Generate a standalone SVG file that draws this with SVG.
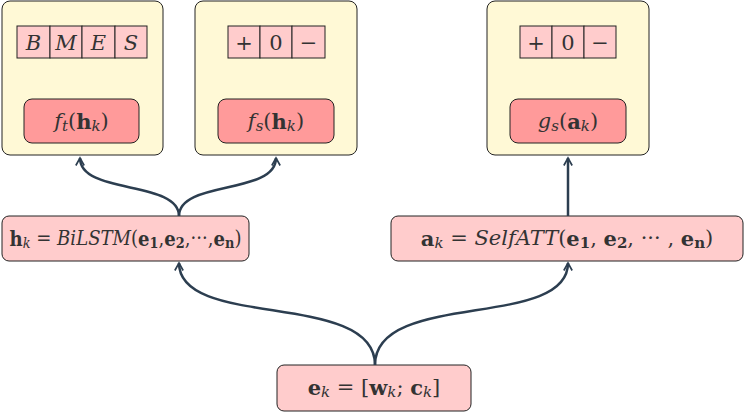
<svg xmlns="http://www.w3.org/2000/svg" width="749" height="415" viewBox="0 0 749 415">
<style>
.outer{fill:#fff9d6;stroke:#222;stroke-width:1}
.cell{fill:#ffcccc;stroke:#222;stroke-width:1}
.inner{fill:#ff9a9a;stroke:#222;stroke-width:1}
.node{fill:#ffcccc;stroke:#222;stroke-width:1}
.t{font-family:"DejaVu Serif",serif;font-size:21px;fill:#333;text-anchor:middle;dominant-baseline:central}
.i{font-style:italic}
.b{font-weight:bold;font-style:normal}
.c{fill:none;stroke:#2c3e50;stroke-width:2.5}
</style>
<defs>
<marker id="ah" viewBox="0 0 12 12" refX="10" refY="6" markerWidth="10" markerHeight="10" markerUnits="userSpaceOnUse" orient="auto">
<path d="M1,1 L10,6 L1,11" fill="none" stroke="#2c3e50" stroke-width="2"/>
</marker>
</defs>
<g id="box-ft">
<rect class="outer" x="2" y="1" width="161" height="154" rx="8"/>
<rect class="cell" x="17" y="26" width="33" height="32"/><rect class="cell" x="50" y="26" width="32" height="32"/><rect class="cell" x="82" y="26" width="33" height="32"/><rect class="cell" x="115" y="26" width="32" height="32"/>
<text class="t i" x="33.5" y="43">B</text><text class="t i" x="66" y="43">M</text><text class="t i" x="98.5" y="43">E</text><text class="t i" x="131" y="43">S</text>
<rect class="inner" x="24" y="99" width="115" height="44" rx="8"/>
<text class="t" x="81.5" y="121"><tspan class="i">f</tspan><tspan class="i" font-size="15" dy="5">t</tspan><tspan dy="-5">(</tspan><tspan class="b">h</tspan><tspan class="i" font-size="15" dy="5">k</tspan><tspan dy="-5">)</tspan></text>
</g>
<g id="box-fs">
<rect class="outer" x="195" y="1" width="162" height="154" rx="8"/>
<rect class="cell" x="228" y="26" width="32" height="32"/><rect class="cell" x="260" y="26" width="32" height="32"/><rect class="cell" x="292" y="26" width="33" height="32"/>
<text class="t" x="244" y="43">+</text><text class="t" x="276" y="43">0</text><text class="t" x="308.5" y="43">−</text>
<rect class="inner" x="218" y="99" width="116" height="44" rx="8"/>
<text class="t" x="276" y="121"><tspan class="i">f</tspan><tspan class="i" font-size="15" dy="5">s</tspan><tspan dy="-5">(</tspan><tspan class="b">h</tspan><tspan class="i" font-size="15" dy="5">k</tspan><tspan dy="-5">)</tspan></text>
</g>
<g id="box-gs">
<rect class="outer" x="487" y="1" width="162" height="154" rx="8"/>
<rect class="cell" x="520" y="26" width="32" height="32"/><rect class="cell" x="552" y="26" width="32" height="32"/><rect class="cell" x="584" y="26" width="32" height="32"/>
<text class="t" x="536" y="43">+</text><text class="t" x="568" y="43">0</text><text class="t" x="600" y="43">−</text>
<rect class="inner" x="510" y="99" width="116" height="44" rx="8"/>
<text class="t" x="568" y="121"><tspan class="i">g</tspan><tspan class="i" font-size="15" dy="5">s</tspan><tspan dy="-5">(</tspan><tspan class="b">a</tspan><tspan class="i" font-size="15" dy="5">k</tspan><tspan dy="-5">)</tspan></text>
</g>
<g id="node-h">
<rect class="node" x="2" y="216" width="247" height="45" rx="7"/>
<text class="t" x="125.5" y="238" textLength="232" lengthAdjust="spacingAndGlyphs"><tspan class="b">h</tspan><tspan class="i" font-size="15" dy="5">k</tspan><tspan dy="-5"> = </tspan><tspan class="i">BiLSTM</tspan>(<tspan class="b">e</tspan><tspan class="b" font-size="15" dy="5">1</tspan><tspan dy="-5">,</tspan><tspan class="b">e</tspan><tspan class="b" font-size="15" dy="5">2</tspan><tspan dy="-5">,···,</tspan><tspan class="b">e</tspan><tspan class="b" font-size="15" dy="5">n</tspan><tspan dy="-5">)</tspan></text>
</g>
<g id="node-a">
<rect class="node" x="391" y="216" width="352" height="45" rx="7"/>
<text class="t" x="567" y="238"><tspan class="b">a</tspan><tspan class="i" font-size="15" dy="5">k</tspan><tspan dy="-5"> = </tspan><tspan class="i">SelfATT</tspan>(<tspan class="b">e</tspan><tspan class="b" font-size="15" dy="5">1</tspan><tspan dy="-5">, </tspan><tspan class="b">e</tspan><tspan class="b" font-size="15" dy="5">2</tspan><tspan dy="-5">, ··· , </tspan><tspan class="b">e</tspan><tspan class="b" font-size="15" dy="5">n</tspan><tspan dy="-5">)</tspan></text>
</g>
<g id="node-e">
<rect class="node" x="277" y="365" width="194" height="46" rx="7"/>
<text class="t" x="374" y="387"><tspan class="b">e</tspan><tspan class="i" font-size="15" dy="5">k</tspan><tspan dy="-5"> = [</tspan><tspan class="b">w</tspan><tspan class="i" font-size="15" dy="5">k</tspan><tspan dy="-5">; </tspan><tspan class="b">c</tspan><tspan class="i" font-size="15" dy="5">k</tspan><tspan dy="-5">]</tspan></text>
</g>
<g id="connectors">
<path class="c" marker-end="url(#ah)" d="M179,216 C179,180 80,195 80,158"/>
<path class="c" marker-end="url(#ah)" d="M179,216 C179,180 276,195 276,158"/>
<path class="c" marker-end="url(#ah)" d="M568,216 L568,158"/>
<path class="c" marker-end="url(#ah)" d="M375,365 C375,290 179,330 179,263"/>
<path class="c" marker-end="url(#ah)" d="M375,365 C375,290 568,330 568,263"/>
</g>
</svg>
